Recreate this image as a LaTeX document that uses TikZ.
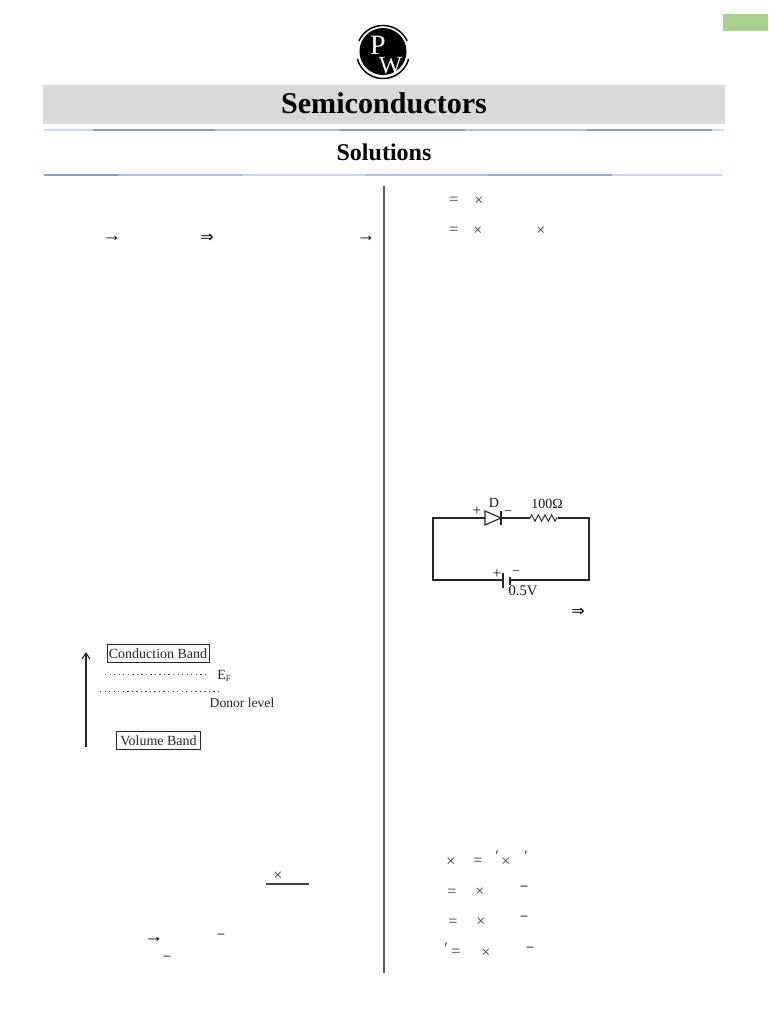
\documentclass[tikz,border=0pt]{standalone}
\usepackage{fontspec}
\setmainfont{Liberation Serif}
\newfontfamily\symfont{DejaVu Sans}
\usetikzlibrary{arrows.meta,decorations.pathmorphing}
\definecolor{bandgrey}{HTML}{D9D9D9}
\definecolor{tabgreen}{HTML}{A9D18E}
\definecolor{ruleA}{HTML}{7F9FD6}
\definecolor{ruleB}{HTML}{A9C0E6}
\definecolor{ruleC}{HTML}{CBD8F0}
\definecolor{symgrey}{HTML}{333333}
\tikzset{
  x=0.75pt,y=-0.75pt,
  sym/.style={inner sep=0pt,text=symgrey,yshift=-0.8pt,font=\fontsize{12}{13}\selectfont},
  arr/.style={inner sep=0pt,text=black,yshift=-0.8pt,font=\fontsize{14}{15}\selectfont},
  darr/.style={inner sep=0pt,text=black,font=\symfont\fontsize{12}{13}\selectfont},
  rulepart/.style={line width=0.9pt},
  wire/.style={line width=0.85pt,draw=black!85},
  clabel/.style={inner sep=0pt,text=black!90,font=\fontsize{10.5}{12}\selectfont},
  bandbox/.style={draw=black!85,line width=0.75pt,inner sep=0pt,minimum height=14pt,font=\fontsize{10.5}{11}\selectfont,text=black!85},
  dots/.style={line width=0.7pt,draw=black!70,dash pattern=on 1pt off 2.4pt},
  minus/.style={inner sep=0pt,text=symgrey,yshift=-1.8pt,font=\bfseries\fontsize{11}{12}\selectfont},
  ringarc/.style={black,line width=1.1pt,samples=40,smooth},
}
\begin{document}
\begin{tikzpicture}
\useasboundingbox (0,0) rectangle (768,1024);
\fill[white] (0,0) rectangle (768,1024);
% header
\fill[tabgreen] (723,14) rectangle (768,31);
\fill[bandgrey] (43,85) rectangle (725,124);
\node[inner sep=0pt,font=\bfseries\fontsize{22.6}{24}\selectfont] (title) at (384,103) {Semiconductors};
\node[inner sep=0pt,font=\bfseries\fontsize{18}{20}\selectfont] (subtitle) at (384,152) {Solutions};
% logo
\draw[ringarc] plot[domain=25:155] ({383+26.5*cos(\x)},{52-26.5*sin(\x)});
\draw[ringarc] plot[domain=195:345] ({383+26.5*cos(\x)},{52-26.5*sin(\x)});
\fill[black] (383,51.5) circle [radius=23.5];
\node[inner sep=0pt,text=white,text height=15pt,text depth=0pt,font=\fontsize{21}{22}\selectfont] (logoP) at (378,45) {P};
\node[inner sep=0pt,text=white,text height=13pt,text depth=0pt,font=\fontsize{18.5}{20}\selectfont] (logoW) at (390.5,64.5) {W};
% header rules
\foreach \a/\b/\c in {44/93/ruleC,93/215/ruleA,215/340/ruleB,340/465/ruleA,465/587/ruleB,587/712/ruleA,712/724/ruleC}
  \draw[rulepart,draw=\c] (\a,130) -- (\b,130);
\foreach \a/\b/\c in {44/118/ruleA,118/242/ruleB,242/365/ruleC,365/488/ruleB,488/612/ruleA!70!ruleB,612/723/ruleC}
  \draw[rulepart,draw=\c] (\a,175) -- (\b,175);
% column divider
\coordinate (divtop) at (384,186);
\coordinate (divbot) at (384,973);
\draw[line width=0.95pt,draw=black!65] (divtop) -- (divbot);
% left column symbols
\node[arr] (a1) at (112,238) {→};
\node[darr] (a2) at (207,238) {⇒};
\node[arr] (a3) at (366,238) {→};
% right column symbols
\node[sym] (e1) at (454,200) {=};
\node[sym] (x1) at (479,200) {×};
\node[sym] (e2) at (454,230) {=};
\node[sym] (x2) at (478,230) {×};
\node[sym] (x3) at (541,230) {×};
% circuit
\coordinate (tl) at (433,518);
\coordinate (tr) at (589,518);
\coordinate (bl) at (433,580);
\coordinate (br) at (589,580);
\coordinate (dl) at (485,518);
\coordinate (dr) at (501,518);
\coordinate (rl) at (530,518);
\coordinate (rr) at (558,518);
\coordinate (bat1) at (503,580);
\coordinate (bat2) at (510,580);
\draw[wire] (dl) -- (tl) -- (bl) -- (bat1);
\draw[wire] (bat2) -- (br) -- (tr) -- (rr);
\draw[wire] (dr) -- (rl);
\draw[wire,line width=0.7pt,decorate,decoration={zigzag,amplitude=2.4pt,segment length=5pt}] (rl) -- (rr);
\draw[wire] (485,511) -- (485,525) -- (dr) -- cycle;
\draw[wire] (501,511) -- (501,525);
\draw[wire] (503,573) -- (503,588);
\draw[wire] (510,577) -- (510,585);
\node[clabel] (dname) at (494,503) {D};
\node[clabel,font=\fontsize{11.5}{12}\selectfont] (dplus) at (477,511) {+};
\node[clabel] (dminus) at (508,513) {−};
\node[clabel] (rname) at (547,504) {100Ω};
\node[clabel,font=\fontsize{11.5}{12}\selectfont] (bplus) at (497,574) {+};
\node[clabel] (bminus) at (516,573) {−};
\node[clabel,font=\fontsize{11}{12}\selectfont] (bname) at (523,591) {0.5V};
\node[darr] (a4) at (578,612) {⇒};
% band diagram
\coordinate (evb) at (86,747);
\coordinate (ect) at (86,652);
\draw[line width=0.85pt,draw=black!85,-{Straight Barb[length=4.5pt,width=6pt]}] (evb) -- (ect);
\node[bandbox,minimum width=76.5pt] (cb) at (158,653.5) {Conduction Band};
\node[bandbox,minimum width=63.5pt] (vb) at (158.5,740.5) {Volume Band};
\coordinate (f1) at (105,674);
\coordinate (f2) at (208,674);
\coordinate (d1) at (100,691);
\coordinate (d2) at (222,691);
\draw[dots] (f1) -- (f2);
\draw[dots] (d1) -- (d2);
\node[inner sep=0pt,text=black!85,font=\fontsize{10.5}{11}\selectfont] (ef) at (224,676) {E\raisebox{-0.3ex}{\fontsize{6.5}{7}\selectfont F}};
\node[inner sep=0pt,text=black!85,font=\fontsize{10.2}{11}\selectfont] (dl2) at (242,703) {Donor level};
% left bottom symbols
\node[sym] (x4) at (278,875) {×};
\coordinate (fr1) at (266,884);
\coordinate (fr2) at (309,884);
\draw[line width=0.8pt,draw=black!75] (fr1) -- (fr2);
\node[arr] (a5) at (154,939) {→};
\node[minus] (m1) at (221,934) {−};
\node[minus] (m2) at (167,956) {−};
% right bottom symbols
\node[sym] (x5) at (451,861) {×};
\node[sym] (e3) at (478,861) {=};
\node[sym] (p1) at (497,855) {′};
\node[sym] (x6) at (506,861) {×};
\node[sym] (p2) at (526,855) {′};
\node[sym] (e4) at (452,892) {=};
\node[sym] (x7) at (480,891) {×};
\node[minus] (m3) at (524,886) {−};
\node[sym] (e5) at (453,922) {=};
\node[sym] (x8) at (481,921) {×};
\node[minus] (m4) at (524,916) {−};
\node[sym] (p3) at (446,947) {′};
\node[sym] (e6) at (456,952) {=};
\node[sym] (x9) at (486,952) {×};
\node[minus] (m5) at (530,947) {−};
\end{tikzpicture}
\end{document}
